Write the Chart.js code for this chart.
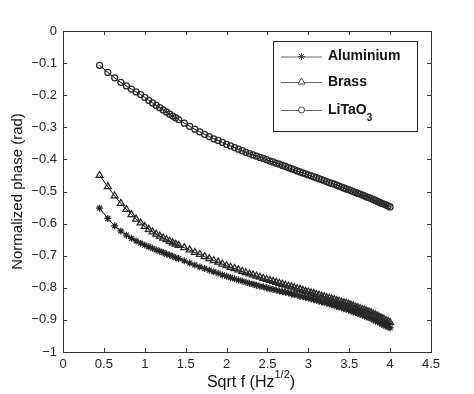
<!DOCTYPE html>
<html>
<head>
<meta charset="utf-8">
<title>Normalized phase</title>
<script src="https://cdn.jsdelivr.net/npm/chart.js@4.4.1/dist/chart.umd.min.js"></script>
<style>
    html, body { margin: 0; padding: 0; background: #fff; }
    #wrap { width: 474px; height: 394px; }
</style>
</head>
<body>
<div id="wrap"><canvas id="phaseChart" width="474" height="394"></canvas></div>
<script>
// sqrt f (Hz^1/2), same abscissa for all three samples
const sqrtFreq = [
    0.447, 0.548, 0.632, 0.707, 0.775, 0.837, 0.894, 0.949, 1.000, 1.049,
    1.095, 1.140, 1.183, 1.225, 1.265, 1.304, 1.342, 1.378, 1.414, 1.483,
    1.549, 1.612, 1.673, 1.732, 1.789, 1.844, 1.897, 1.949, 2.000, 2.049,
    2.098, 2.145, 2.191, 2.236, 2.280, 2.324, 2.366, 2.408, 2.449, 2.490,
    2.530, 2.569, 2.608, 2.646, 2.683, 2.720, 2.757, 2.793, 2.828, 2.864,
    2.898, 2.933, 2.966, 3.000, 3.033, 3.066, 3.098, 3.130, 3.162, 3.194,
    3.225, 3.256, 3.286, 3.317, 3.347, 3.376, 3.406, 3.435, 3.464, 3.493,
    3.521, 3.550, 3.578, 3.606, 3.633, 3.661, 3.688, 3.715, 3.742, 3.768,
    3.795, 3.821, 3.847, 3.873, 3.899, 3.924, 3.950, 3.975, 4.000
];

// normalized phase (rad)
const aluminiumPhase = [
    -0.552, -0.584, -0.607, -0.623, -0.636, -0.646, -0.654, -0.661, -0.667, -0.672,
    -0.677, -0.682, -0.686, -0.690, -0.695, -0.698, -0.702, -0.706, -0.709, -0.716,
    -0.723, -0.729, -0.735, -0.740, -0.745, -0.750, -0.755, -0.760, -0.764, -0.768,
    -0.772, -0.776, -0.779, -0.783, -0.786, -0.789, -0.792, -0.795, -0.797, -0.800,
    -0.803, -0.805, -0.807, -0.810, -0.812, -0.814, -0.816, -0.819, -0.821, -0.823,
    -0.826, -0.828, -0.830, -0.832, -0.834, -0.837, -0.839, -0.841, -0.844, -0.846,
    -0.848, -0.850, -0.853, -0.855, -0.858, -0.860, -0.862, -0.865, -0.867, -0.869,
    -0.872, -0.875, -0.877, -0.880, -0.883, -0.886, -0.888, -0.891, -0.893, -0.896,
    -0.900, -0.903, -0.906, -0.909, -0.913, -0.916, -0.919, -0.922, -0.925
];

const brassPhase = [
    -0.450, -0.485, -0.514, -0.537, -0.556, -0.572, -0.586, -0.598, -0.609, -0.618,
    -0.626, -0.633, -0.639, -0.645, -0.650, -0.655, -0.660, -0.664, -0.668, -0.675,
    -0.682, -0.690, -0.696, -0.703, -0.709, -0.715, -0.720, -0.726, -0.731, -0.736,
    -0.740, -0.744, -0.749, -0.753, -0.757, -0.760, -0.764, -0.767, -0.771, -0.774,
    -0.777, -0.780, -0.783, -0.786, -0.789, -0.792, -0.795, -0.797, -0.800, -0.803,
    -0.805, -0.808, -0.811, -0.813, -0.816, -0.818, -0.821, -0.823, -0.826, -0.828,
    -0.831, -0.833, -0.835, -0.837, -0.840, -0.842, -0.845, -0.847, -0.849, -0.851,
    -0.854, -0.857, -0.860, -0.862, -0.865, -0.868, -0.870, -0.873, -0.875, -0.878,
    -0.882, -0.885, -0.888, -0.892, -0.895, -0.898, -0.902, -0.905, -0.908
];

const litaoPhase = [
    -0.107, -0.129, -0.146, -0.160, -0.171, -0.181, -0.190, -0.198, -0.207, -0.216,
    -0.224, -0.232, -0.239, -0.246, -0.252, -0.259, -0.265, -0.270, -0.276, -0.287,
    -0.297, -0.306, -0.314, -0.322, -0.329, -0.336, -0.341, -0.347, -0.353, -0.358,
    -0.363, -0.368, -0.373, -0.378, -0.382, -0.386, -0.390, -0.394, -0.397, -0.401,
    -0.405, -0.408, -0.412, -0.415, -0.419, -0.422, -0.426, -0.429, -0.432, -0.436,
    -0.439, -0.442, -0.445, -0.448, -0.451, -0.454, -0.457, -0.460, -0.463, -0.466,
    -0.469, -0.472, -0.475, -0.477, -0.480, -0.483, -0.486, -0.489, -0.492, -0.494,
    -0.497, -0.500, -0.503, -0.506, -0.508, -0.511, -0.514, -0.517, -0.519, -0.522,
    -0.525, -0.528, -0.531, -0.534, -0.537, -0.539, -0.542, -0.545, -0.548
];

const seriesNames = ['Aluminium', 'Brass', 'LiTaO'];
const seriesSub = ['', '', '3'];

const FONT = '"Liberation Sans", Arial, Helvetica, sans-serif';
const TICK = 4;

function toPoints(arr) {
    return sqrtFreq.map((x, i) => ({ x: x, y: arr[i] }));
}

// box, inward ticks, axis titles and legend (matlab look)
const framePlugin = {
    id: 'frame',
    afterDraw(chart) {
        const { ctx, chartArea: a, scales } = chart;
        ctx.save();

        ctx.strokeStyle = '#333';
        ctx.lineWidth = 1;
        ctx.strokeRect(a.left + 0.5, a.top + 0.5, a.right - a.left, a.bottom - a.top);

        ctx.beginPath();
        scales.x.ticks.forEach(t => {
            const px = Math.round(scales.x.getPixelForValue(t.value)) + 0.5;
            ctx.moveTo(px, a.bottom); ctx.lineTo(px, a.bottom - TICK);
            ctx.moveTo(px, a.top); ctx.lineTo(px, a.top + TICK);
        });
        scales.y.ticks.forEach(t => {
            const py = Math.round(scales.y.getPixelForValue(t.value)) + 0.5;
            ctx.moveTo(a.left, py); ctx.lineTo(a.left + TICK, py);
            ctx.moveTo(a.right, py); ctx.lineTo(a.right - TICK, py);
        });
        ctx.stroke();

        // y title
        ctx.fillStyle = '#111';
        ctx.font = '15px ' + FONT;
        ctx.textAlign = 'center';
        ctx.textBaseline = 'middle';
        ctx.save();
        ctx.translate(18, (a.top + a.bottom) / 2);
        ctx.rotate(-Math.PI / 2);
        ctx.fillText('Normalized phase (rad)', 0, 0);
        ctx.restore();

        // x title with superscript
        ctx.textAlign = 'left';
        ctx.textBaseline = 'alphabetic';
        const big = '16px ' + FONT, small = '11px ' + FONT;
        const p1 = 'Sqrt f (Hz', p2 = '1/2', p3 = ')';
        ctx.font = big; const w1 = ctx.measureText(p1).width, w3 = ctx.measureText(p3).width;
        ctx.font = small; const w2 = ctx.measureText(p2).width;
        let tx = 251 - (w1 + w2 + w3) / 2;
        const base = 387;
        ctx.font = big; ctx.fillText(p1, tx, base); tx += w1;
        ctx.font = small; ctx.fillText(p2, tx, base - 9); tx += w2;
        ctx.font = big; ctx.fillText(p3, tx, base);

        // legend
        const lx = 273.5, ly = 41.5, lw = 144, lh = 90;
        ctx.fillStyle = '#fff';
        ctx.fillRect(lx, ly, lw, lh);
        ctx.strokeStyle = '#222';
        ctx.strokeRect(lx, ly, lw, lh);
        const rows = [56.5, 82, 110];
        chart.data.datasets.forEach((ds, i) => {
            const y = rows[i];
            ctx.strokeStyle = '#666';
            ctx.lineWidth = 1;
            ctx.beginPath();
            ctx.moveTo(281, y + 0.5); ctx.lineTo(322, y + 0.5);
            ctx.stroke();
            ctx.strokeStyle = '#444';
            ctx.fillStyle = '#fff';
            Chart.helpers.drawPoint(ctx, {
                pointStyle: ds.pointStyle, radius: ds.pointRadius,
                rotation: 0, borderWidth: 1
            }, 301.5, y);
            ctx.fillStyle = '#111';
            ctx.font = 'bold 14px ' + FONT;
            ctx.textBaseline = 'middle';
            ctx.fillText(seriesNames[i], 328, y);
            if (seriesSub[i]) {
                const w = ctx.measureText(seriesNames[i]).width;
                ctx.font = 'bold 10px ' + FONT;
                ctx.textBaseline = 'alphabetic';
                ctx.fillText(seriesSub[i], 328 + w, y + 11);
            }
        });

        ctx.restore();
    }
};

function makeDataset(label, arr, style, radius) {
    return {
        label: label,
        data: toPoints(arr),
        borderColor: '#000',
        borderWidth: 1,
        pointStyle: style,
        pointRadius: radius,
        pointBorderColor: '#262626',
        pointBackgroundColor: 'rgba(0,0,0,0)',
        pointBorderWidth: 1.25,
        tension: 0,
        fill: false
    };
}

new Chart(document.getElementById('phaseChart'), {
    type: 'line',
    data: {
        datasets: [
            makeDataset('Aluminium', aluminiumPhase, 'star', 3.5),
            makeDataset('Brass', brassPhase, 'triangle', 4),
            makeDataset('LiTaO3', litaoPhase, 'circle', 3)
        ]
    },
    options: {
        responsive: false,
        animation: false,
        layout: { padding: { left: 0, top: 31, right: 43, bottom: 0 } },
        plugins: {
            legend: { display: false },
            tooltip: { enabled: false }
        },
        scales: {
            x: {
                type: 'linear',
                min: 0,
                max: 4.5,
                grid: { display: false, drawTicks: false },
                border: { display: false },
                ticks: {
                    stepSize: 0.5,
                    padding: 5,
                    color: '#222',
                    font: { family: FONT, size: 13 },
                    maxRotation: 0,
                    callback: v => String(Math.round(v * 10) / 10)
                },
                afterFit: scale => { scale.height = 42; }
            },
            y: {
                type: 'linear',
                min: -1,
                max: 0,
                grid: { display: false, drawTicks: false },
                border: { display: false },
                ticks: {
                    stepSize: 0.1,
                    padding: 6,
                    color: '#222',
                    font: { family: FONT, size: 13 },
                    callback: v => {
                        const r = Math.round(v * 10) / 10;
                        return r === 0 ? '0' : '\u2212' + String(Math.abs(r));
                    }
                },
                afterFit: scale => { scale.width = 63; }
            }
        }
    },
    plugins: [framePlugin]
});
</script>
</body>
</html>
